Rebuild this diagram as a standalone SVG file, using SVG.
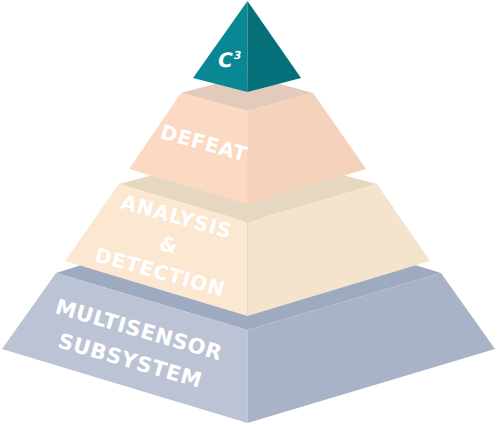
<svg xmlns="http://www.w3.org/2000/svg" width="500" height="424" viewBox="0 0 500 424">
  <style>
    .lbl { font-family: "DejaVu Sans", "Liberation Sans", sans-serif; font-weight: bold; fill: #ffffff; text-anchor: middle; }
  </style>
  <rect width="500" height="424" fill="#ffffff"/>

  <g id="multisensor">
    <polygon points="56,273 247.5,213 441,273 247.5,330" fill="#9eaac0"/>
    <polygon points="56,273 247.5,330 247.5,423 2,349" fill="#bcc3d5"/>
    <polygon points="247.5,330 441,273 495,349 247.5,423" fill="#a9b3c7"/>
    <g transform="translate(139,329.5) rotate(16)">
      <text class="lbl" x="0" y="7.5" font-size="21" letter-spacing="0.6">MULTISENSOR</text>
      <text class="lbl" x="0" y="39.5" font-size="21" letter-spacing="0.6">SUBSYSTEM</text>
    </g>
  </g>

  <g id="analysis">
    <polygon points="119,184 247.5,150 377,184 247.5,222" fill="#e6d7c1"/>
    <polygon points="119,184 247.5,222 247.5,316 65,261" fill="#fce7d0"/>
    <polygon points="247.5,222 377,184 430,261 247.5,316" fill="#f4e3cd"/>
    <g transform="translate(176.5,216.5) rotate(15.5)">
      <text class="lbl" x="0" y="7" font-size="20" letter-spacing="0.8">ANALYSIS</text>
      <text class="lbl" x="0" y="36.5" font-size="20">&amp;</text>
      <text class="lbl" x="-1" y="65" font-size="20" letter-spacing="0.8">DETECTION</text>
    </g>
  </g>

  <g id="defeat">
    <polygon points="181,93 247.5,75 313,93 247.5,111" fill="#e2cbbb"/>
    <polygon points="181,93 247.5,111 247.5,204 129,169" fill="#fcd9c3"/>
    <polygon points="247.5,111 313,93 366,169 247.5,204" fill="#f4d2bc"/>
    <text class="lbl" transform="translate(204,143) rotate(15.5)" x="0" y="7" font-size="20" letter-spacing="0.6">DEFEAT</text>
  </g>

  <g id="c3">
    <polygon points="247.5,1 247.5,92 193,78" fill="#0a8794"/>
    <polygon points="247.5,1 301,78 247.5,92" fill="#05707a"/>
    <text class="lbl" transform="translate(228,67) skewX(-10)" x="0" y="0" font-size="20" font-weight="normal">C<tspan font-size="11" dy="-8">3</tspan></text>
  </g>
</svg>
